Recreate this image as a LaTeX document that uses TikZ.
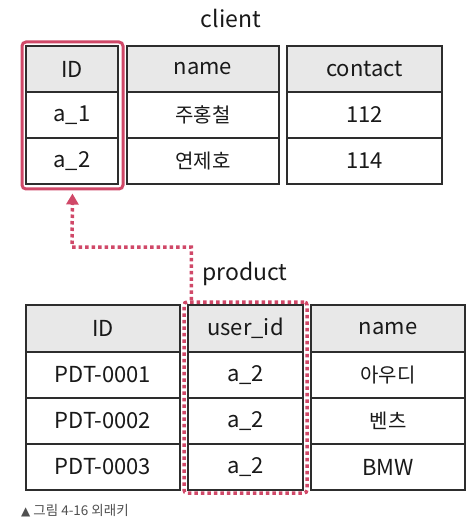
\documentclass[tikz,border=0pt]{standalone}
\usepackage{fontspec}
\setmainfont{Noto Sans CJK KR}
\newfontfamily\symfont{DejaVu Sans}
\usetikzlibrary{arrows.meta,calc}
\definecolor{fkred}{RGB}{208,72,104}
\definecolor{hdrgray}{RGB}{232,232,232}
\definecolor{lineg}{RGB}{45,45,45}
\definecolor{capg}{RGB}{80,80,80}
\tikzset{
  cell/.style={draw=lineg, line width=2pt, fill=white, inner sep=0pt,
    minimum height=46pt, font=\fontsize{22}{24}\selectfont, text=black!90},
  hdr/.style={cell, fill=hdrgray},
  kor/.style={font=\fontsize{20}{22}\selectfont},
  title/.style={font=\fontsize{23}{25}\selectfont, text=black!90, inner sep=0pt},
  fkbox/.style={draw=fkred, line width=3pt, rounded corners=4pt, inner sep=0pt},
  fkdot/.style={draw=fkred, line width=3.5pt, dash pattern=on 3.5pt off 3pt, rounded corners=3pt, inner sep=0pt},
  fkline/.style={draw=fkred, line width=3.5pt, dash pattern=on 3.5pt off 3pt},
}
\begin{document}
\begin{tikzpicture}[x=1pt,y=-1pt]
\useasboundingbox (0,0) rectangle (474,518);
% client table
\node[title] (client) at (231,18) {client};
\node[hdr, minimum width=92pt] (c11) at (72,69) {ID};
\node[hdr, minimum width=152pt] (c12) at (203,69) {name};
\node[hdr, minimum width=155pt] (c13) at (364.5,69) {contact};
\node[cell, minimum width=92pt] (c21) at (72,115) {a\_1};
\node[cell, minimum width=152pt, kor] (c22) at (203,115) {주홍철};
\node[cell, minimum width=155pt] (c23) at (364.5,115) {112};
\node[cell, minimum width=92pt] (c31) at (72,161) {a\_2};
\node[cell, minimum width=152pt, kor] (c32) at (203,161) {연제호};
\node[cell, minimum width=155pt] (c33) at (364.5,161) {114};
\node[fkbox, minimum width=101pt, minimum height=147pt] (pk) at (72.5,115.5) {};
% product table
\node[title] (product) at (245,274) {product};
\node[hdr, minimum width=154pt, minimum height=47pt] (p11) at (103,328.5) {ID};
\node[hdr, minimum width=115pt, minimum height=47pt] (p12) at (245.5,328.5) {user\_id};
\node[hdr, minimum width=154pt, minimum height=47pt] (p13) at (388,328.5) {name};
\node[cell, minimum width=154pt] (p21) at (103,375) {PDT-0001};
\node[cell, minimum width=115pt] (p22) at (245.5,375) {a\_2};
\node[cell, minimum width=154pt, kor] (p23) at (388,375) {아우디};
\node[cell, minimum width=154pt] (p31) at (103,421) {PDT-0002};
\node[cell, minimum width=115pt] (p32) at (245.5,421) {a\_2};
\node[cell, minimum width=154pt, kor] (p33) at (388,421) {벤츠};
\node[cell, minimum width=154pt] (p41) at (103,467) {PDT-0003};
\node[cell, minimum width=115pt] (p42) at (245.5,467) {a\_2};
\node[cell, minimum width=154pt] (p43) at (388,467) {BMW};
\node[fkdot, minimum width=123pt, minimum height=191pt] (fk) at (245.5,397.5) {};
% connector
\coordinate (start) at ($(fk.north west)+(9,0)$);
\coordinate (bend) at (72,247);
\draw[fkline, -{Triangle[width=12pt,length=11pt,fill=fkred]}, shorten >=3pt]
  (start) |- (bend) -- (pk.south);
% caption
\node[anchor=west, inner sep=0pt, text=capg, font=\fontsize{13.5}{15}\selectfont] (cap) at (21,511) {{\symfont\fontsize{12}{13}\selectfont ▲} 그림 4-16 외래키};
\end{tikzpicture}
\end{document}
